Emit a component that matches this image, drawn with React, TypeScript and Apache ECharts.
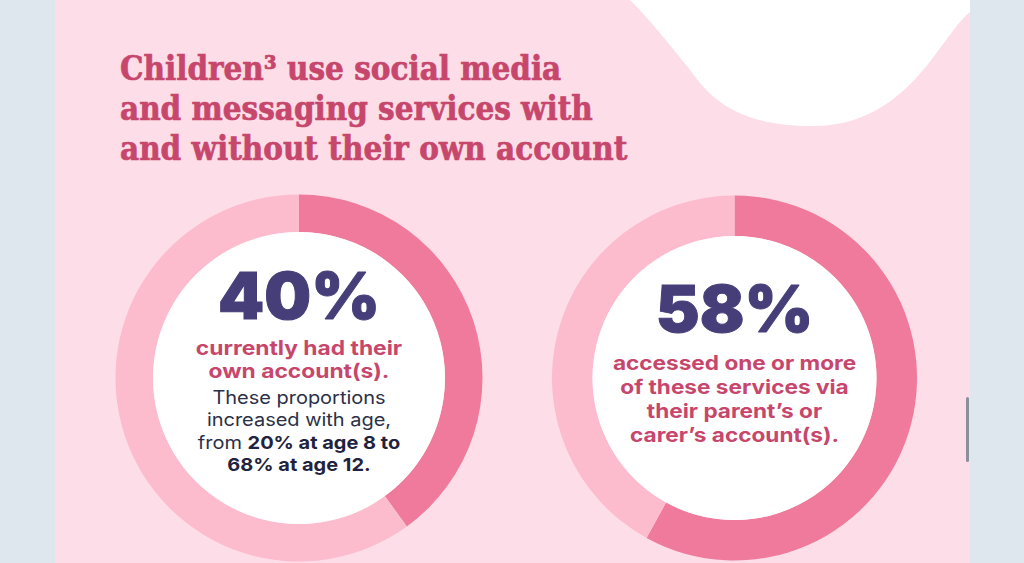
import React, { useEffect, useRef } from "react";
import * as echarts from "echarts";

// ---- data ----
const categories = ["Own account(s)", "Parent's or carer's account(s)"];
const shares = [40, 58];
const bigLabels = ["40%", "58%"];
const titleLines = [
  "Children\u00b3 use social media",
  "and messaging services with",
  "and without their own account",
];
const leftPinkLines = ["currently had their", "own account(s)."];
const leftDarkLines = ["These proportions", "increased with age,", "from {b|20% at age 8 to}", "{b|68% at age 12.}"];
const rightPinkLines = ["accessed one or more", "of these services via", "their parent\u2019s or", "carer\u2019s account(s)."];

const DARK = "#EF7A9C";
const LIGHT = "#FDBBCE";
const PANEL = "#FDDDE8";
const OUTSIDE = "#DEE6EE";
const TITLE = "#C7466C";
const NUM = "#463E78";
const BODY = "#2B3048";

export default function App() {
  const ref = useRef<HTMLDivElement>(null);
  useEffect(() => {
    if (!ref.current) return;
    echarts.graphic.registerShape(
      "blob",
      echarts.graphic.extendPath(
        "M630 0 C650 20 670 45 690 70 C715 105 745 126 813 126 C870 126 905 95 935 55 C950 35 960 20 970 12 L970 0 Z",
        {}
      )
    );
    const chart = echarts.init(ref.current, undefined, { renderer: "svg" });

    const geo = [
      { cx: 299, cy: 378, inner: 146, outer: 183.5 },
      { cx: 734.5, cy: 378, inner: 142, outer: 182.5 },
    ];

    const series: any[] = [];
    shares.forEach((v, i) => {
      const g = geo[i];
      series.push({
        type: "pie",
        name: categories[i],
        center: [g.cx, g.cy],
        radius: [g.inner, g.outer],
        startAngle: 90,
        clockwise: true,
        silent: true,
        z: 1,
        label: { show: false },
        labelLine: { show: false },
        data: [
          { value: v, name: categories[i], itemStyle: { color: DARK } },
          { value: 100 - v, name: "Other", itemStyle: { color: LIGHT } },
        ],
      });
      series.push({
        type: "pie",
        center: [g.cx, g.cy],
        radius: [0, g.inner],
        silent: true,
        z: 1,
        label: { show: false },
        labelLine: { show: false },
        data: [{ value: 1, itemStyle: { color: "#FFFFFF" } }],
      });
    });

    const bodyFont = "Inter, 'Open Sans', sans-serif";
    const graphic: any[] = [
      { type: "rect", z: -10, shape: { x: 55, y: 0, width: 915, height: 563 }, style: { fill: PANEL } },
      { type: "blob", z: -9, style: { fill: "#FFFFFF" } },
      { type: "rect", z: 5, shape: { x: 966, y: 397, width: 3, height: 65, r: 1.5 }, style: { fill: "#8A9099" } },
    ];
    titleLines.forEach((t, i) => {
      graphic.push({
        type: "text",
        x: 120,
        y: 52 + i * 40,
        scaleX: 0.895,
        z: 10,
        style: {
          text: t,
          fill: TITLE,
          stroke: TITLE,
          lineWidth: 0.7,
          font: "bold 33px 'DejaVu Serif', serif",
          verticalAlign: "alphabetic",
        },
      });
    });
    // big numbers
    const bigY = [296, 309];
    bigLabels.forEach((t, i) => {
      graphic.push({
        type: "text",
        x: geo[i].cx,
        y: bigY[i],
        z: 100,
        scaleX: 1.03,
        style: {
          text: t,
          fill: NUM,
          stroke: NUM,
          lineWidth: 1,
          font: "900 64px Inter, Lato, sans-serif",
          align: "center",
          verticalAlign: "middle",
        },
      });
    });
    const leftY = [348, 371, 398, 420, 443, 465];
    leftPinkLines.forEach((t, i) => {
      graphic.push({
        type: "text",
        x: geo[0].cx,
        y: leftY[i],
        z: 100,
        scaleX: 1.14,
        style: { text: t, fill: TITLE, font: "bold 20px " + bodyFont, align: "center", verticalAlign: "middle" },
      });
    });
    leftDarkLines.forEach((t, i) => {
      graphic.push({
        type: "text",
        x: geo[0].cx,
        y: leftY[i + 2],
        z: 100,
        scaleX: 1.11,
        style: {
          text: t,
          fill: BODY,
          font: "18px " + bodyFont,
          align: "center",
          verticalAlign: "middle",
          rich: { b: { fontWeight: "bold", fontSize: 18, fontFamily: bodyFont, fill: "#1F2340" } },
        },
      });
    });
    const rightY = [363, 387, 411, 435];
    rightPinkLines.forEach((t, i) => {
      graphic.push({
        type: "text",
        x: geo[1].cx,
        y: rightY[i],
        z: 100,
        scaleX: 1.13,
        style: { text: t, fill: TITLE, font: "bold 20px " + bodyFont, align: "center", verticalAlign: "middle" },
      });
    });

    chart.setOption({
      animation: false,
      backgroundColor: OUTSIDE,
      series,
      graphic,
    });
    return () => chart.dispose();
  }, []);
  return <div ref={ref} style={{ position: "fixed", left: 0, top: 0, width: 1024, height: 563 }} />;
}
